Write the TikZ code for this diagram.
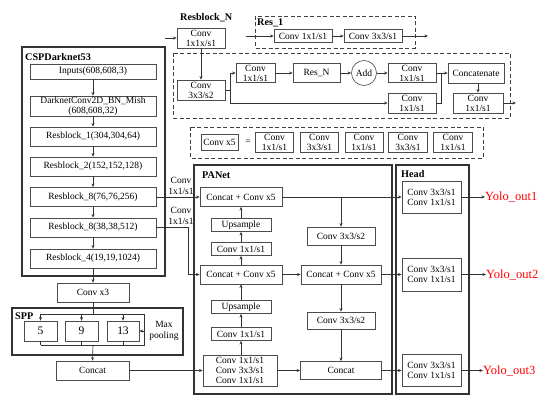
\documentclass[tikz,border=0pt]{standalone}
\usepackage{fontspec}
\setmainfont{Liberation Serif}
\usetikzlibrary{arrows.meta}
\begin{document}
\begin{tikzpicture}[x=1pt,y=-1pt,
  box/.style={draw=black!70, line width=0.65pt, inner sep=0pt, align=center,
    font=\fontsize{9.5}{10}\selectfont},
  outer/.style={draw=black!80, line width=1.1pt},
  dbox/.style={draw=black!75, line width=0.85pt, dash pattern=on 4pt off 2.5pt},
  ttl/.style={anchor=west, inner sep=0pt, font=\fontsize{10.2}{11}\selectfont\bfseries},
  lbl/.style={inner sep=0pt, align=center, font=\fontsize{9.5}{11}\selectfont},
  yolo/.style={anchor=west, inner sep=0pt, text=red, font=\fontsize{12.5}{14}\selectfont},
  ln/.style={draw=black!80, line width=0.65pt},
  arr/.style={ln, -{Stealth[length=3.6pt,width=3pt]}}
]
\useasboundingbox (0,0) rectangle (550,403);

% ---------- CSPDarknet53 ----------
\draw[outer] (22,47) rectangle (165,276);
\node[ttl] (tcsp) at (25,57) {CSPDarknet53};
\node[box, minimum width=126, minimum height=15] (inp) at (93,71.5) {Inputs(608,608,3)};
\node[box, minimum width=126, minimum height=20] (dark) at (93,106) {DarknetConv2D\_BN\_Mish\\(608,608,32)};
\node[box, minimum width=126, minimum height=19] (r1) at (93,136.5) {Resblock\_1(304,304,64)};
\node[box, minimum width=126, minimum height=19] (r2) at (93,166.5) {Resblock\_2(152,152,128)};
\node[box, minimum width=126, minimum height=19] (r8a) at (93,197) {Resblock\_8(76,76,256)};
\node[box, minimum width=126, minimum height=19] (r8b) at (93,227.5) {Resblock\_8(38,38,512)};
\node[box, minimum width=126, minimum height=19] (r4) at (93,258.5) {Resblock\_4(19,19,1024)};
\draw[arr] (inp) -- (dark);
\draw[arr] (dark) -- (r1);
\draw[arr] (r1) -- (r2);
\draw[arr] (r2) -- (r8a);
\draw[arr] (r8a) -- (r8b);
\draw[arr] (r8b) -- (r4);

% ---------- Conv x3 / SPP / Concat ----------
\node[box, minimum width=72, minimum height=19] (cx3) at (93,292.5) {Conv x3};
\draw[arr] (r4) -- (cx3);
\draw[outer] (12,308) rectangle (183,355);
\node[ttl] (tspp) at (15,316) {SPP};
\node[box, minimum width=33, minimum height=20, font=\fontsize{11.5}{13}\selectfont] (p5) at (40.5,331) {5};
\node[box, minimum width=33, minimum height=20, font=\fontsize{11.5}{13}\selectfont] (p9) at (81.5,331) {9};
\node[box, minimum width=32, minimum height=20, font=\fontsize{11.5}{13}\selectfont] (p13) at (123,331) {13};
\node[lbl] (mp) at (164,331) {Max\\pooling};
\coordinate (st) at (93,314);
\coordinate (sl) at (40.5,314);
\coordinate (sm) at (81.5,314);
\coordinate (sr) at (123,314);
\coordinate (se) at (144,314);
\coordinate (bl) at (40.5,345);
\coordinate (bm) at (81.5,345);
\coordinate (br) at (123,345);
\coordinate (be) at (144,345);
\coordinate (bc) at (93,345);
\coordinate (ea) at (144,331);
\draw[ln] (cx3.south) -- (st);
\draw[ln] (sl) -- (se) -- (be) -- (bl);
\draw[arr] (sl) -- (p5.north);
\draw[arr] (sm) -- (p9.north);
\draw[arr] (sr) -- (p13.north);
\draw[ln] (p5.south) -- (bl);
\draw[ln] (p9.south) -- (bm);
\draw[ln] (p13.south) -- (br);
\draw[arr] (ea) -- (p13.east);
\node[box, minimum width=73, minimum height=19] (cat0) at (92.5,370.5) {Concat};
\draw[arr] (bc) -- (cat0.north);

% ---------- PANet ----------
\draw[outer] (194,165) rectangle (392,394);
\node[ttl] (tpan) at (202,175) {PANet};
\node[box, minimum width=82, minimum height=19] (pc1) at (241,197) {Concat + Conv x5};
\node[box, minimum width=60, minimum height=13] (up1) at (241,225) {Upsample};
\node[box, minimum width=60, minimum height=13] (cv1) at (241,249) {Conv 1x1/s1};
\node[box, minimum width=82, minimum height=19] (pc2) at (241,274.5) {Concat + Conv x5};
\node[box, minimum width=60, minimum height=13] (up2) at (241,307) {Upsample};
\node[box, minimum width=60, minimum height=13] (cv2) at (241,334) {Conv 1x1/s1};
\node[box, minimum width=74, minimum height=31] (tri) at (240,370.5) {Conv 1x1/s1\\Conv 3x3/s1\\Conv 1x1/s1};
\node[box, minimum width=68, minimum height=18] (cr1) at (341,236) {Conv 3x3/s2};
\node[box, minimum width=80, minimum height=19] (pr2) at (341,274.5) {Concat + Conv x5};
\node[box, minimum width=68, minimum height=17] (cr2) at (341,320.5) {Conv 3x3/s2};
\node[box, minimum width=81, minimum height=18] (pcat) at (341,370.5) {Concat};

\draw[arr] (tri.north -| cv2) -- (cv2.south);
\draw[arr] (cv2) -- (up2);
\draw[arr] (up2) -- (pc2);
\draw[arr] (pc2) -- (cv1);
\draw[arr] (cv1) -- (up1);
\draw[arr] (up1) -- (pc1);
\draw[arr] (pc2) -- (pr2);
\draw[arr] (tri) -- (pcat);
\coordinate (brc) at (341,197);
\draw[arr] (brc) -- (cr1);
\draw[arr] (cr1) -- (pr2);
\draw[arr] (pr2) -- (cr2);
\draw[arr] (cr2) -- (pcat);

% CSP -> PANet
\draw[arr] (r8a) -- (pc1);
\node[lbl] (l1) at (181,185.5) {Conv\\1x1/s1};
\coordinate (k1) at (188,227.5);
\coordinate (k2) at (188,274.5);
\draw[arr] (r8b.east) -- (k1) -- (k2) -- (pc2.west);
\node[lbl] (l2) at (181,216) {Conv\\1x1/s1};
\draw[arr] (cat0) -- (tri);

% ---------- Head ----------
\draw[outer] (396,165) rectangle (469,394);
\node[ttl] (thead) at (401,174) {Head};
\node[box, minimum width=59, minimum height=32] (h1) at (431.5,197) {Conv 3x3/s1\\Conv 1x1/s1};
\node[box, minimum width=59, minimum height=33] (h2) at (431.5,274.5) {Conv 3x3/s1\\Conv 1x1/s1};
\node[box, minimum width=59, minimum height=32] (h3) at (431.5,370.5) {Conv 3x3/s1\\Conv 1x1/s1};
\draw[arr] (pc1) -- (h1);
\draw[arr] (pr2) -- (h2);
\draw[arr] (pcat) -- (h3);
\node[yolo] (y1) at (485,197) {Yolo\_out1};
\node[yolo] (y2) at (486,274.5) {Yolo\_out2};
\node[yolo] (y3) at (483,370.5) {Yolo\_out3};
\draw[arr] (h1) -- (y1.west);
\draw[arr] (h2) -- (y2.west);
\draw[arr] (h3) -- (y3.west);

% ---------- Resblock_N ----------
\node[ttl] (trb) at (180,18) {Resblock\_N};
\node[box, minimum width=48, minimum height=20] (c0) at (201,38) {Conv\\1x1x/s1};
\coordinate (cin) at (165,38);
\draw[arr] (cin) -- (c0);
\draw[dbox] (173,53) rectangle (510,118);
\node[box, minimum width=48, minimum height=20] (c1) at (201,90) {Conv\\3x3/s2};
\draw[arr] (c0) -- (c1);
\node[box, minimum width=39, minimum height=19] (ca) at (255.5,73) {Conv\\1x1/s1};
\node[box, minimum width=47, minimum height=19] (resn) at (316.5,73) {Res\_N};
\node[draw=black!70, line width=0.65pt, circle, minimum size=25, inner sep=0pt,
  font=\fontsize{9.5}{10}\selectfont] (add) at (364,73) {Add};
\node[box, minimum width=48, minimum height=19] (cb) at (412,73) {Conv\\1x1/s1};
\node[box, minimum width=48, minimum height=20] (cc) at (412,103) {Conv\\1x1/s1};
\node[box, minimum width=56, minimum height=20] (cat) at (476,73) {Concatenate};
\node[box, minimum width=50, minimum height=20] (cd) at (478,103) {Conv\\1x1/s1};
\coordinate (sp) at (230,90);
\coordinate (spu) at (230,73);
\coordinate (spd) at (230,103);
\draw[ln] (c1.east |- sp) -- (sp);
\draw[arr] (sp) -- (spu) -- (ca.west);
\draw[arr] (sp) -- (spd) -- (cc.west);
\draw[arr] (ca) -- (resn);
\draw[arr] (resn) -- (add);
\draw[arr] (add) -- (cb);
\coordinate (mu) at (441,73);
\coordinate (md) at (441,103);
\draw[ln] (cc.east) -- (md) -- (mu);
\draw[arr] (cb.east) -- (cat.west);
\draw[arr] (cat.south -| cd) -- (cd.north);
\coordinate (cout) at (516,103);
\draw[arr] (cd) -- (cout);

% ---------- Res_1 ----------
\draw[dbox] (255,16) rectangle (415,48);
\node[ttl] (tres1) at (257,23) {Res\_1};
\node[box, minimum width=58, minimum height=13] (ra) at (303,36) {Conv 1x1/s1};
\node[box, minimum width=58, minimum height=13] (rb) at (373,36) {Conv 3x3/s1};
\coordinate (rin) at (246,36);
\coordinate (rout) at (428,36);
\draw[arr] (rin) -- (ra);
\draw[arr] (ra) -- (rb);
\draw[arr] (rb) -- (rout);

% ---------- Conv x5 ----------
\draw[dbox] (190,127) rectangle (483,158);
\node[box, minimum width=37, minimum height=16] (cx5) at (219.5,142) {Conv x5};
\node[lbl] (eq) at (248,142) {=};
\node[box, minimum width=38, minimum height=20] (k1b) at (274.5,142) {Conv\\1x1/s1};
\node[box, minimum width=38, minimum height=20] (k2b) at (319.5,142) {Conv\\3x3/s1};
\node[box, minimum width=38, minimum height=20] (k3b) at (364,142) {Conv\\1x1/s1};
\node[box, minimum width=39, minimum height=20] (k4b) at (408,142) {Conv\\3x3/s1};
\node[box, minimum width=39, minimum height=20] (k5b) at (453,142) {Conv\\1x1/s1};
\end{tikzpicture}
\end{document}
